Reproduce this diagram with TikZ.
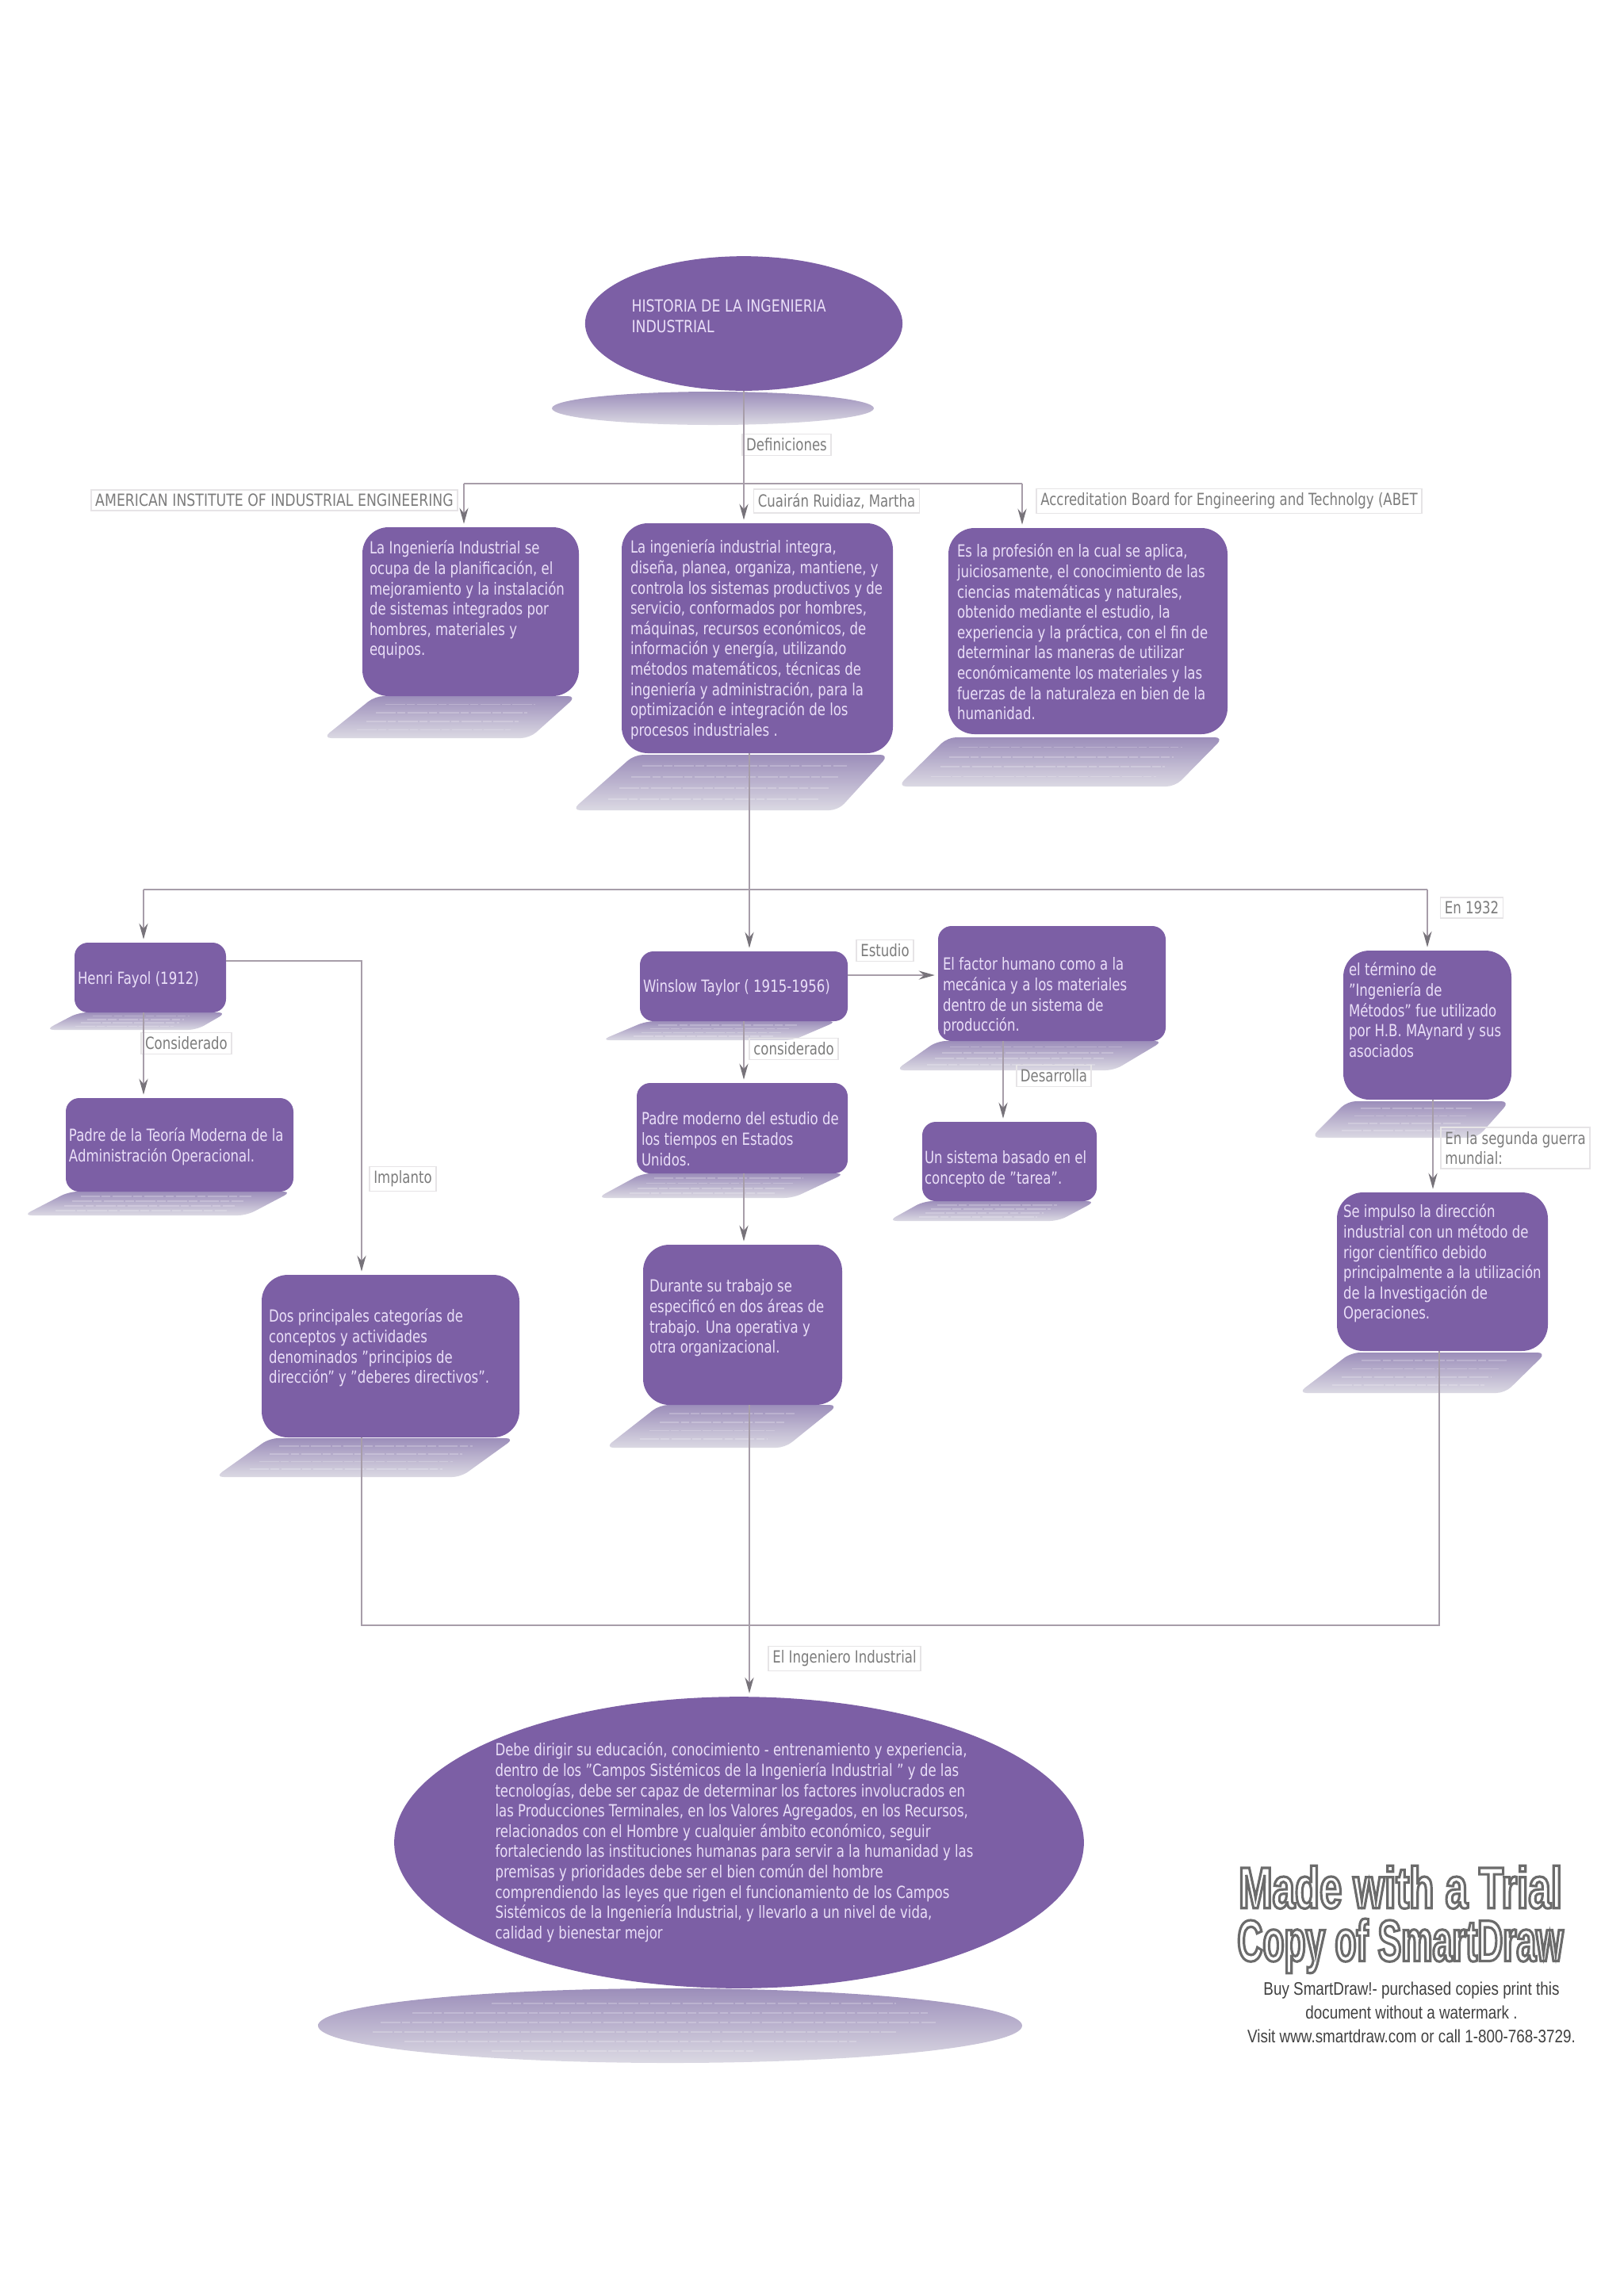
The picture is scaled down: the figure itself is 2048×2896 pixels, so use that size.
\documentclass[tikz,border=0pt]{standalone}
\usepackage{fontspec}
\usetikzlibrary{arrows.meta,shapes.geometric,calc}
\setmainfont[FakeStretch=0.785]{DejaVu Sans}
\newfontfamily\capsfont[FakeStretch=0.82]{DejaVu Sans}
\newfontfamily\markfont[FakeStretch=0.69]{Liberation Sans}
\newfontfamily\copyfont[FakeStretch=0.60]{Liberation Sans}
\newfontfamily\buyfont[FakeStretch=0.825]{Liberation Sans}
\newlength{\unitpx}
\setlength{\unitpx}{0.01cm}
\definecolor{boxpurple}{HTML}{7C5FA5}
\definecolor{boxtext}{HTML}{EADFF8}
\definecolor{linegray}{HTML}{A79DA9}
\definecolor{tipgray}{HTML}{77737A}
\definecolor{labelgray}{HTML}{7C7C7C}
\definecolor{labelframe}{HTML}{E6E4E6}
\definecolor{shadetop}{HTML}{9C8EBA}
\definecolor{shadebottom}{HTML}{DBD9E3}
% width, height, top offset, left inset, lines
\newcommand{\boxtxt}[5]{\parbox[c][#2\unitpx][t]{#1\unitpx}{\vspace*{#3\unitpx}%
  \makebox[0pt][l]{\hspace{#4\unitpx}\begin{tabular}[t]{@{}l@{}}#5\end{tabular}}}}
\newcommand{\outl}[1]{\special{pdf:code q 2 Tr 0.9 w 0.42 G}#1\special{pdf:code Q}}
\tikzset{
  purple/.style={fill=boxpurple,text=boxtext,inner sep=0pt,outer sep=0pt,anchor=north west,
    rounded corners=0.33cm,font=\fontsize{6}{7.28}\selectfont},
  purplesmall/.style={purple,rounded corners=0.17cm},
  oval/.style={shape=ellipse,fill=boxpurple,text=boxtext,inner sep=0pt,outer sep=0pt,
    font=\fontsize{6}{7.28}\selectfont},
  lbl/.style={draw=labelframe,line width=0.5pt,text=labelgray,inner sep=1.5pt,
    font=\fontsize{6}{7.28}\selectfont,align=left},
  link/.style={draw=linegray,line width=0.75pt},
  arrow/.style={link,shorten >=1.2pt,-{Stealth[length=0.2cm,width=0.11cm,color=tipgray]}},
  reflection/.style={top color=shadetop,bottom color=shadebottom,rounded corners=0.11cm},
  streak/.style={draw=white,opacity=0.22,line width=0.5pt,dash pattern=on 7pt off 0.6pt on 3pt off 0.8pt}
}
\begin{document}
\begin{tikzpicture}[x=0.01cm,y=-0.01cm]
    \useasboundingbox (0,0) rectangle (2048,2896);
    \shade[top color=shadetop,bottom color=shadebottom] (899,515) ellipse [x radius=203,y radius=21];
    \shade[top color=shadetop,bottom color=shadebottom] (845,2555) ellipse [x radius=444,y radius=47];
    \foreach \ya/\xa/\xb in {2527/620/1130,2539/520/1170,2551/480/1180,2563/470/1130,2575/510/1080,2587/620/950}
      \draw[streak] (\xa,\ya) -- (\xb,\ya);
    \foreach \xa/\xb/\xc/\xd/\ya/\yb in {473/721/668/413/878/931,800/1115/1057/727/952/1022,
      1195/1537/1482/1138/930/992,99/280/248/63/1277/1299,87/362/311/35/1503/1533,
      340/643/581/277/1814/1863,815/1050/1000/764/1288/1312,810/1060/1000/759/1480/1511,
      832/1051/990/769/1772/1826,1182/1461/1405/1135/1313/1350,1165/1376/1335/1126/1515/1540,
      1699/1898/1863/1659/1389/1435,1704/1944/1898/1643/1706/1757}
      {
      \shade[reflection] (\xa,\ya) -- ({\xb+6},\ya) -- (\xc,\yb) -- ({\xd-6},\yb) -- cycle;
      \foreach \f in {0.2,0.4,0.6,0.8}
        \draw[streak] ($(\xa,\ya)!\f!(\xd,\yb)+(25,0)$) -- ($(\xb,\ya)!\f!(\xc,\yb)+(-35,0)$);
      }

    \node[oval] (title) at (938,408) {\boxtxt{283}{120}{28}{0}{\capsfont HISTORIA DE LA INGENIERIA\\\capsfont INDUSTRIAL}};
    \node[purple] (iie) at (457,665) {\boxtxt{273}{213}{16}{9}{La Ingeniería Industrial se\\ocupa de la planificación, el\\mejoramiento y la instalación\\de sistemas integrados por\\hombres, materiales y\\equipos.}};
    \node[purple] (cuairan) at (784,660) {\boxtxt{342}{290}{20}{11}{La ingeniería industrial integra,\\diseña, planea, organiza, mantiene, y\\controla los sistemas productivos y de\\servicio, conformados por hombres,\\máquinas, recursos económicos, de\\información y energía, utilizando\\métodos matemáticos, técnicas de\\ingeniería y administración, para la\\optimización e integración de los\\procesos industriales .}};
    \node[purple] (abet) at (1196,666) {\boxtxt{352}{260}{19}{11}{Es la profesión en la cual se aplica,\\juiciosamente, el conocimiento de las\\ciencias matemáticas y naturales,\\obtenido mediante el estudio, la\\experiencia y la práctica, con el fin de\\determinar las maneras de utilizar\\económicamente los materiales y las\\fuerzas de la naturaleza en bien de la\\humanidad.}};
    \node[purplesmall] (fayol) at (94,1189) {\boxtxt{191}{88}{35}{4}{Henri Fayol (1912)}};
    \node[purplesmall] (padre) at (83,1385) {\boxtxt{287}{118}{37}{4}{Padre de la Teoría Moderna de la\\Administración Operacional.}};
    \node[purple] (dos) at (330,1608) {\boxtxt{325}{205}{42}{9}{Dos principales categorías de\\conceptos y actividades\\denominados "principios de\\dirección" y "deberes directivos".}};
    \node[purplesmall] (taylor) at (807,1200) {\boxtxt{262}{88}{34}{4}{Winslow Taylor ( 1915-1956)}};
    \node[purplesmall] (moderno) at (803,1366) {\boxtxt{266}{114}{35}{6}{Padre moderno del estudio de\\los tiempos en Estados\\Unidos.}};
    \node[purple] (durante) at (811,1570) {\boxtxt{251}{202}{42}{8}{Durante su trabajo se\\especificó en dos áreas de\\trabajo. Una operativa y\\otra organizacional.}};
    \node[purplesmall] (factor) at (1183,1168) {\boxtxt{287}{145}{38}{6}{El factor humano como a la\\mecánica y a los materiales\\dentro de un sistema de\\producción.}};
    \node[purplesmall] (sistema) at (1163,1415) {\boxtxt{220}{100}{35}{3}{Un sistema basado en el\\concepto de "tarea".}};
    \node[purple] (termino) at (1694,1199) {\boxtxt{212}{188}{14}{7}{el término de\\"Ingeniería de\\Métodos" fue utilizado\\por H.B. MAynard y sus\\asociados}};
    \node[purple] (impulso) at (1686,1504) {\boxtxt{266}{200}{14}{8}{Se impulso la dirección\\industrial con un método de\\rigor científico debido\\principalmente a la utilización\\de la Investigación de\\Operaciones.}};
    \node[oval] (ingeniero) at (932,2324) {\boxtxt{615}{260}{3}{0}{Debe dirigir su educación, conocimiento - entrenamiento y experiencia,\\dentro de los "Campos Sistémicos de la Ingeniería Industrial " y de las\\tecnologías, debe ser capaz de determinar los factores involucrados en\\las Producciones Terminales, en los Valores Agregados, en los Recursos,\\relacionados con el Hombre y cualquier ámbito económico, seguir\\fortaleciendo las instituciones humanas para servir a la humanidad y las\\premisas y prioridades debe ser el bien común del hombre\\comprendiendo las leyes que rigen el funcionamiento de los Campos\\Sistémicos de la Ingeniería Industrial, y llevarlo a un nivel de vida,\\calidad y bienestar mejor}};

    \node[lbl] (lamerican) at (346,631) {\capsfont AMERICAN INSTITUTE OF INDUSTRIAL ENGINEERING};
    \node[lbl] (lcuairan) at (1055,632) {Cuairán Ruidiaz, Martha};
    \node[lbl] (labet) at (1550,632) {Accreditation Board for Engineering and Technolgy (ABET};
    \node[lbl] (ldef) at (992,561) {Definiciones};
    \node[lbl] (lcons) at (235,1316) {Considerado};
    \node[lbl] (limpl) at (508,1487) {Implanto};
    \node[lbl] (lconst) at (1001,1323) {considerado};
    \node[lbl] (lest) at (1116,1199) {Estudio};
    \node[lbl] (ldes) at (1329,1357) {Desarrolla};
    \node[lbl] (l1932) at (1856,1145) {En 1932};
    \node[lbl] (lguerra) at (1911,1448) {En la segunda guerra\\mundial:};
    \node[lbl] (lingeniero) at (1065,2092) {El Ingeniero Industrial};

    \coordinate (defleft) at (585,610);
    \coordinate (defmid) at (938,610);
    \coordinate (defright) at (1289,610);
    \draw[link] (title.south) -- (defmid);
    \draw[link] (defleft) -- (defright);
    \draw[arrow] (defleft) -- (defleft |- iie.north);
    \draw[arrow] (defmid) -- (defmid |- cuairan.north);
    \draw[arrow] (defright) -- (defright |- abet.north);

    \coordinate (histleft) at (181,1122);
    \coordinate (histmid) at (945,1122);
    \coordinate (histright) at (1800,1122);
    \draw[link] (cuairan.south -| histmid) -- (histmid);
    \draw[link] (histleft) -- (histright);
    \draw[arrow] (histleft) -- (histleft |- fayol.north);
    \draw[arrow] (histmid) -- (histmid |- taylor.north);
    \draw[arrow] (histright) -- (histright |- termino.north);

    \draw[arrow] (fayol.south -| histleft) -- (padre.north -| histleft);
    \coordinate (implcorner) at (456,1212);
    \draw[arrow] (fayol.east |- implcorner) -- (implcorner) -- (implcorner |- dos.north);

    \coordinate (taylorline) at (938,1290);
    \draw[arrow] (taylor.south -| taylorline) -- (moderno.north -| taylorline);
    \draw[arrow] (moderno.south -| taylorline) -- (durante.north -| taylorline);
    \coordinate (estline) at (1069,1230);
    \draw[arrow] (taylor.east |- estline) -- (factor.west |- estline);
    \coordinate (desline) at (1265,1320);
    \draw[arrow] (factor.south -| desline) -- (sistema.north -| desline);
    \coordinate (guerraline) at (1807,1390);
    \draw[arrow] (termino.south -| guerraline) -- (impulso.north -| guerraline);

    \coordinate (joinleft) at (456,2050);
    \coordinate (joinmid) at (945,2050);
    \coordinate (joinright) at (1815,2050);
    \draw[link] (dos.south -| joinleft) -- (joinleft) -- (joinright) -- (impulso.south -| joinright);
    \draw[arrow] (durante.south -| joinmid) -- (ingeniero.north -| joinmid);

    \node[text=white,align=center,font=\bfseries\fontsize{21}{19}\selectfont] (trial) at (1766,2421)
      {\outl{\markfont\bfseries Made with a Trial}\\\outl{\copyfont\bfseries Copy of SmartDraw}};
    \node[text=black!75,align=center,font=\buyfont\fontsize{6.5}{8.5}\selectfont] (buy) at (1780,2538)
      {Buy SmartDraw!- purchased copies print this\\document without a watermark .\\Visit www.smartdraw.com or call 1-800-768-3729.};
\end{tikzpicture}
\end{document}
